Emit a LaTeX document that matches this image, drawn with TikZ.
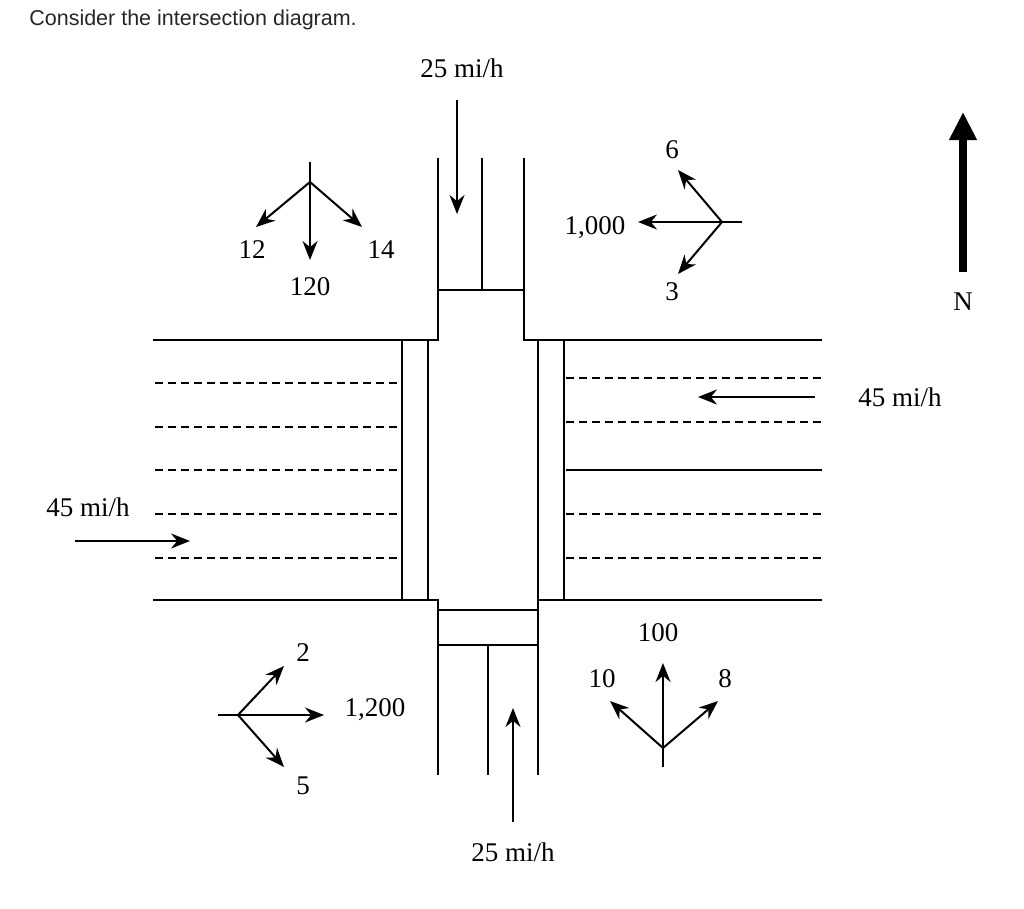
\documentclass[tikz,border=0pt]{standalone}
\usepackage{fontspec}
\setmainfont{Liberation Serif}
\newfontfamily\titlefont{Liberation Sans}
\usetikzlibrary{arrows.meta}
\begin{document}
\begin{tikzpicture}[x=1pt,y=-1pt,line width=2pt,
  road/.style={line width=2pt},
  lane/.style={line width=1.8pt,dash pattern=on 8pt off 5pt},
  arr/.style={line width=2pt,-{Stealth[length=19pt,width=15pt]}},
  lbl/.style={font=\fontsize{27}{29}\selectfont,inner sep=0pt}]
\useasboundingbox (0,0) rectangle (1024,908);
\node[anchor=west,font=\titlefont\fontsize{21.5}{24}\selectfont,text=black!85] (title) at (25,20) {Consider the intersection diagram.};
% north approach
\draw[road] (438,158) -- (438,340) -- (153,340);
\draw[road] (524,158) -- (524,340) -- (822,340);
\draw[road] (482,158) -- (482,290);
\draw[road] (438,290) -- (524,290);
% south
\draw[road] (153,600) -- (438,600) -- (438,775);
\draw[road] (822,600) -- (538,600) -- (538,775);
\draw[road] (488,645) -- (488,775);
\draw[road] (438,610) -- (538,610);
\draw[road] (438,645) -- (538,645);
% crosswalks
\foreach \x in {402,428,538,564} \draw[road] (\x,340) -- (\x,600);
% lanes
\foreach \y in {383,427,470,514,558} \draw[lane] (155,\y) -- (400,\y);
\foreach \y in {378,422,514,558} \draw[lane] (566,\y) -- (822,\y);
\draw[road] (566,470) -- (822,470);
% speeds
\node[lbl] (sn) at (462,68) {25 mi/h};
\coordinate (a1) at (457,100); \coordinate (a2) at (457,214);
\draw[arr] (a1) -- (a2);
\node[lbl] (ss) at (513,852) {25 mi/h};
\coordinate (b1) at (513,822); \coordinate (b2) at (513,708);
\draw[arr] (b1) -- (b2);
\node[lbl] (se) at (900,397) {45 mi/h};
\coordinate (c1) at (815,397); \coordinate (c2) at (698,397);
\draw[arr] (c1) -- (c2);
\node[lbl] (sw) at (88,507) {45 mi/h};
\coordinate (d1) at (75,541); \coordinate (d2) at (190,541);
\draw[arr] (d1) -- (d2);
% north arrow
\coordinate (n1) at (963,272); \coordinate (n2) at (963,112);
\draw[line width=8pt,-{Triangle[length=28pt,width=26pt]}] (n1) -- (n2);
\node[lbl] (nl) at (963,302) {N};
% NW movements
\coordinate (p0) at (310,162); \coordinate (p1) at (310,182);
\draw[road] (p0) -- (p1);
\draw[arr] (p1) -- (256,227);
\draw[arr] (p1) -- (310,260);
\draw[arr] (p1) -- (362,227);
\node[lbl] (l12) at (252,250) {12};
\node[lbl] (l120) at (310,287) {120};
\node[lbl] (l14) at (381,250) {14};
% NE movements
\coordinate (q0) at (742,222); \coordinate (q1) at (722,222);
\draw[road] (q0) -- (q1);
\draw[arr] (q1) -- (638,222);
\draw[arr] (q1) -- (678,170);
\draw[arr] (q1) -- (678,274);
\node[lbl] (l1000) at (595,228) {1,000};
\node[lbl] (l6) at (672,150) {6};
\node[lbl] (l3) at (672,292) {3};
% SW movements
\coordinate (r0) at (218,715); \coordinate (r1) at (238,715);
\draw[road] (r0) -- (r1);
\draw[arr] (r1) -- (284,666);
\draw[arr] (r1) -- (324,715);
\draw[arr] (r1) -- (284,767);
\node[lbl] (l2) at (303,653) {2};
\node[lbl] (l1200) at (375,710) {1,200};
\node[lbl] (l5) at (303,786) {5};
% SE movements
\coordinate (s0) at (663,767); \coordinate (s1) at (663,748);
\draw[road] (s0) -- (s1);
\draw[arr] (s1) -- (663,663);
\draw[arr] (s1) -- (610,701);
\draw[arr] (s1) -- (718,701);
\node[lbl] (l100) at (658,633) {100};
\node[lbl] (l10) at (602,679) {10};
\node[lbl] (l8) at (725,679) {8};
\end{tikzpicture}
\end{document}
